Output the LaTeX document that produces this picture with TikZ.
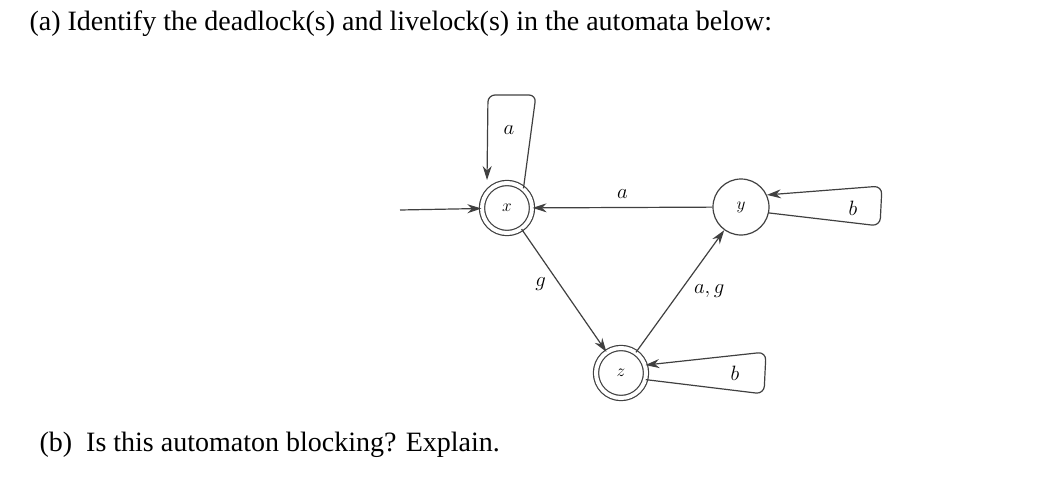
\documentclass[tikz,border=0pt]{standalone}
\usepackage{fontspec}
\setmainfont{Liberation Serif}
\usetikzlibrary{arrows.meta}
\begin{document}
\begin{tikzpicture}[x=1pt,y=-1pt,
  st/.style={circle,draw=black!75,line width=1.2pt,minimum size=56pt,inner sep=0pt,font=\fontsize{17}{17}\selectfont},
  acc/.style={st,double=white,double distance=4pt,minimum size=50pt},
  ed/.style={draw=black!75,line width=1.2pt,-{Stealth[length=14pt,width=9pt]}},
  lab/.style={font=\fontsize{20}{20}\selectfont}]
\useasboundingbox (0,0) rectangle (1060,503);
\node[anchor=west,font=\fontsize{28}{28}\selectfont] (t1) at (26,24) {(a) Identify the deadlock(s) and livelock(s) in the automata below:};
\node[anchor=west,font=\fontsize{28}{28}\selectfont] (t2) at (36,445) {(b)\ \ Is this automaton blocking? Explain.};
\node[acc] (x) at (507,208) {$x$};
\node[st] (y) at (741,207) {$y$};
\node[acc] (z) at (621,373) {$z$};
\coordinate (i) at (400,210);
\draw[ed] (i) -- (x);
\draw[ed,rounded corners=7pt] (x.50) -- (536,95) -- (488,95) -- (487,180);
\node[lab] (la) at (509,130) {$a$};
\draw[ed] (y) -- node[lab,above=5pt] {$a$} (x);
\draw[ed] (x) -- node[lab,pos=0.45,left=10pt] {$g$} (z);
\draw[ed] (z) -- node[lab,pos=0.5,right=10pt] {$a,g$} (y);
\draw[ed,rounded corners=8pt] (y.-12) -- (880,226) -- (882,186) -- (y.25);
\node[lab] (lb1) at (853,208) {$b$};
\draw[ed,rounded corners=8pt] (z.-15) -- (764,394) -- (766,352) -- (z.18);
\node[lab] (lb2) at (735,373) {$b$};
\end{tikzpicture}
\end{document}
